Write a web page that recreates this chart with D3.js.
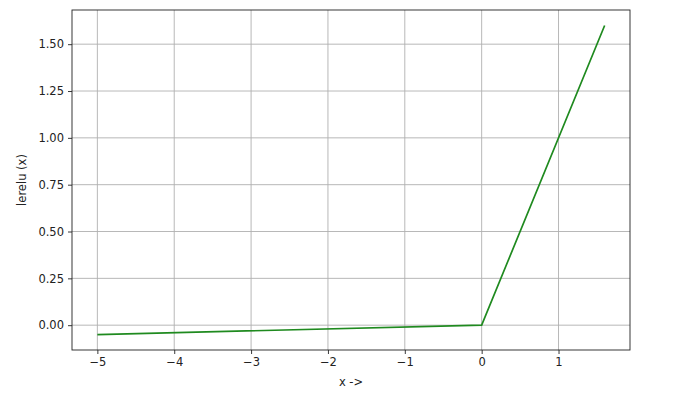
<!DOCTYPE html>
<html>
<head>
<meta charset="utf-8">
<script src="https://cdn.jsdelivr.net/npm/d3@7"></script>
<style>
    body { margin: 0; background: #fff; }
    text { font-family: "DejaVu Sans", sans-serif; }
</style>
</head>
<body>
<div id="chart"></div>
<script>
// data
let xValues = [-5, 0, 1.6];
let yValues = [-0.05, 0, 1.6];
let xTicks = [-5, -4, -3, -2, -1, 0, 1];
let yTicks = [0, 0.25, 0.5, 0.75, 1.0, 1.25, 1.5];

let margin = {top: 10, right: 48, bottom: 50, left: 72};
let width = 678 - margin.left - margin.right;
let height = 400 - margin.top - margin.bottom;
let fontSize = 11.5;

let svg = d3.select("#chart").append("svg")
    .attr("width", 678)
    .attr("height", 400)
    .append("g")
    .attr("transform", "translate(" + margin.left + "," + margin.top + ")");

// scales, with matplotlib style 5% padding
let xPad = (d3.max(xValues) - d3.min(xValues)) * 0.05;
let yPad = (d3.max(yValues) - d3.min(yValues)) * 0.05;

let x = d3.scaleLinear()
    .domain([d3.min(xValues) - xPad, d3.max(xValues) + xPad])
    .range([0, width]);

let y = d3.scaleLinear()
    .domain([d3.min(yValues) - yPad, d3.max(yValues) + yPad])
    .range([height, 0]);

// grid
svg.append("g").selectAll("line")
    .data(xTicks)
    .enter().append("line")
    .attr("x1", d => x(d)).attr("x2", d => x(d))
    .attr("y1", 0).attr("y2", height)
    .attr("stroke", "#b0b0b0")
    .attr("stroke-width", 0.9);

svg.append("g").selectAll("line")
    .data(yTicks)
    .enter().append("line")
    .attr("y1", d => y(d)).attr("y2", d => y(d))
    .attr("x1", 0).attr("x2", width)
    .attr("stroke", "#b0b0b0")
    .attr("stroke-width", 0.9);

// axes
let xAxis = d3.axisBottom(x).tickValues(xTicks).tickSize(4).tickPadding(4).tickFormat(d3.format("d"));
let yAxis = d3.axisLeft(y).tickValues(yTicks).tickSize(4).tickPadding(4).tickFormat(d3.format(".2f"));

svg.append("g")
    .attr("transform", "translate(0," + height + ")")
    .call(xAxis)
    .call(g => g.select(".domain").remove());

svg.append("g")
    .call(yAxis)
    .call(g => g.select(".domain").remove());

svg.selectAll(".tick text").attr("font-size", fontSize).attr("fill", "#222").attr("font-family", "DejaVu Sans");
svg.selectAll(".tick line").attr("stroke", "#222").attr("stroke-width", 0.9);

// frame
svg.append("rect")
    .attr("x", 0).attr("y", 0)
    .attr("width", width).attr("height", height)
    .attr("fill", "none")
    .attr("stroke", "#222")
    .attr("stroke-width", 0.9);

// line
let points = xValues.map((d, i) => [d, yValues[i]]);
svg.append("path")
    .datum(points)
    .attr("fill", "none")
    .attr("stroke", "#1f8a1f")
    .attr("stroke-width", 1.7)
    .attr("d", d3.line().x(d => x(d[0])).y(d => y(d[1])));

// axis titles
svg.append("text")
    .attr("x", width / 2)
    .attr("y", height + 36)
    .attr("text-anchor", "middle")
    .attr("font-size", fontSize)
    .attr("fill", "#222")
    .text("x ->");

svg.append("text")
    .attr("transform", "rotate(-90)")
    .attr("x", -height / 2)
    .attr("y", -46)
    .attr("text-anchor", "middle")
    .attr("font-size", fontSize)
    .attr("fill", "#222")
    .text("lerelu (x)");
</script>
</body>
</html>
